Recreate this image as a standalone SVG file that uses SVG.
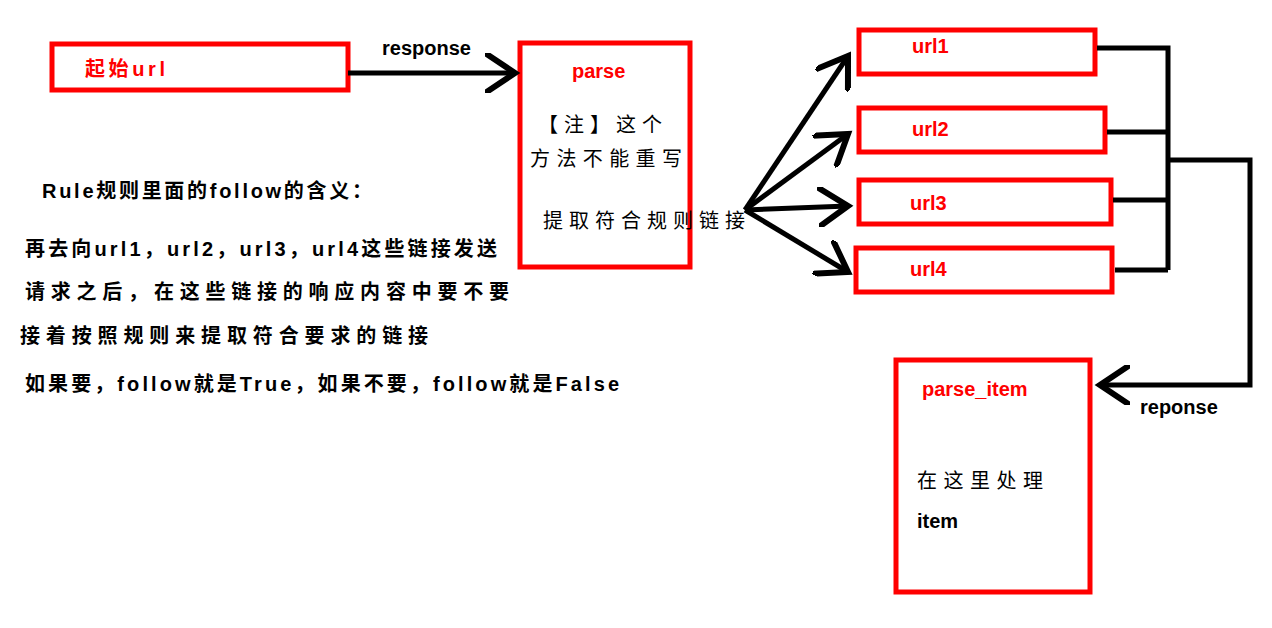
<svg xmlns="http://www.w3.org/2000/svg" width="1272" height="628" viewBox="0 0 1272 628">
<style>
.box{fill:#fff;stroke:#f00;stroke-width:5}
.ln{fill:none;stroke:#000;stroke-width:5}
text{font-family:"Liberation Sans","Noto Sans CJK SC",sans-serif;font-size:20px;font-weight:bold;fill:#000}
.r{fill:#f00}
.n{font-weight:normal}
</style>
<defs><marker id="a" markerWidth="8" markerHeight="8" refX="6" refY="4" orient="auto" markerUnits="strokeWidth"><path d="M0,0 L6,4 L0,8" fill="none" stroke="#000" stroke-width="1.2"/></marker></defs>
<rect width="1272" height="628" fill="#fff"/>
<g id="start"><rect class="box" x="52" y="44" width="296" height="46"/><text class="r" x="85" y="76" textLength="80">起始url</text></g>
<g id="parse"><rect class="box" x="520" y="43" width="170" height="224"/><text class="r" x="572" y="78">parse</text><text class="n" x="538" y="132" textLength="124">【注】这个</text><text class="n" x="530" y="166" textLength="152">方法不能重写</text><text class="n" x="543" y="228" textLength="202">提取符合规则链接</text></g>
<g id="url1"><rect class="box" x="859" y="30" width="236" height="44"/><text class="r" x="912" y="53">url1</text></g>
<g id="url2"><rect class="box" x="859" y="108" width="246" height="44"/><text class="r" x="912" y="136">url2</text></g>
<g id="url3"><rect class="box" x="859" y="180" width="252" height="44"/><text class="r" x="910" y="210">url3</text></g>
<g id="url4"><rect class="box" x="856" y="248" width="256" height="44"/><text class="r" x="910" y="276">url4</text></g>
<g id="item"><rect class="box" x="896" y="360" width="194" height="232"/><text class="r" x="922" y="396">parse_item</text><text class="n" x="917" y="488" textLength="126">在这里处理</text><text x="917" y="528">item</text></g>
<g id="connectors">
<line class="ln" x1="348" y1="73" x2="515" y2="73" marker-end="url(#a)"/>
<text x="382" y="55">response</text>
<line class="ln" x1="745" y1="210" x2="848" y2="56" marker-end="url(#a)"/>
<line class="ln" x1="745" y1="210" x2="848" y2="134" marker-end="url(#a)"/>
<line class="ln" x1="745" y1="210" x2="848" y2="206" marker-end="url(#a)"/>
<line class="ln" x1="745" y1="210" x2="848" y2="272" marker-end="url(#a)"/>
<path class="ln" d="M1097,48 H1168 V270 M1107,132 H1168 M1113,200 H1168 M1115,270 H1168 M1168,160 H1250 V385 H1100" marker-end="url(#a)"/>
<text x="1140" y="414">reponse</text>
</g>
<g id="notes">
<text x="42" y="198" textLength="330">Rule规则里面的follow的含义：</text>
<text x="25" y="256" textLength="472">再去向url1，url2，url3，url4这些链接发送</text>
<text x="25" y="299" textLength="484">请求之后，在这些链接的响应内容中要不要</text>
<text x="20" y="343" textLength="408">接着按照规则来提取符合要求的链接</text>
<text x="25" y="391" textLength="594">如果要，follow就是True，如果不要，follow就是False</text>
</g>
</svg>
